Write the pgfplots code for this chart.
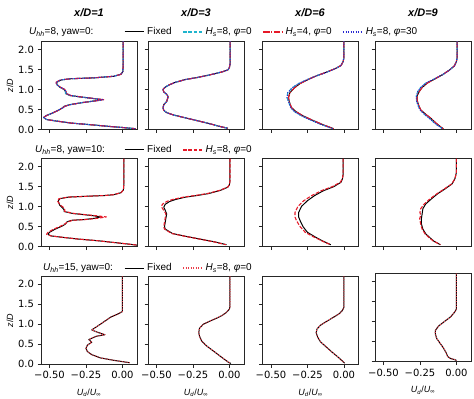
\documentclass[border=0pt]{standalone}
\usepackage{pgfplots}
\pgfplotsset{compat=1.18}
\usepackage{pgfplotstable}
\usepackage{fontspec}
\setmainfont{Liberation Sans}
\newfontfamily\dejavu{DejaVu Sans}

\definecolor{cyanL}{RGB}{30,180,205}
\definecolor{redL}{RGB}{230,25,40}
\definecolor{blueL}{RGB}{40,40,210}

% ---------------- data: row a (U=8, yaw=0), row b (U=8, yaw=10), row c (U=15, yaw=0)
\pgfplotstableread{
x y
0.005 2.20
0.005 1.60
0.003 1.45
-0.010 1.38
-0.060 1.33
-0.200 1.29
-0.350 1.27
-0.420 1.24
-0.450 1.18
-0.450 1.13
-0.430 1.06
-0.400 1.00
-0.390 0.95
-0.390 0.90
-0.360 0.85
-0.280 0.81
-0.190 0.77
-0.140 0.745
-0.180 0.72
-0.280 0.67
-0.360 0.62
-0.400 0.58
-0.410 0.54
-0.440 0.48
-0.480 0.41
-0.520 0.35
-0.540 0.30
-0.520 0.25
-0.450 0.21
-0.350 0.16
-0.220 0.12
-0.100 0.08
0.000 0.05
0.090 0.02
}\tblaA
\pgfplotstableread{
x y
0.005 2.20
0.005 1.60
0.003 1.45
-0.010 1.38
-0.060 1.33
-0.200 1.29
-0.350 1.27
-0.425 1.24
-0.455 1.18
-0.450 1.12
-0.425 1.06
-0.395 1.00
-0.385 0.95
-0.385 0.90
-0.355 0.85
-0.275 0.81
-0.185 0.77
-0.128 0.745
-0.175 0.72
-0.280 0.67
-0.360 0.62
-0.395 0.58
-0.405 0.55
-0.440 0.48
-0.480 0.41
-0.520 0.35
-0.540 0.30
-0.520 0.25
-0.450 0.21
-0.350 0.16
-0.220 0.12
-0.100 0.08
0.000 0.05
0.090 0.02
}\tblaAv
\pgfplotstableread{
x y
0.005 2.20
0.005 1.65
0.000 1.55
-0.010 1.49
-0.050 1.44
-0.140 1.36
-0.220 1.30
-0.300 1.25
-0.370 1.18
-0.410 1.12
-0.440 1.06
-0.455 1.00
-0.450 0.94
-0.430 0.88
-0.420 0.82
-0.425 0.76
-0.430 0.70
-0.450 0.62
-0.455 0.54
-0.450 0.48
-0.430 0.42
-0.380 0.36
-0.300 0.29
-0.220 0.22
-0.140 0.15
-0.070 0.08
-0.010 0.03
}\tblaB
\pgfplotstableread{
x y
0.000 2.20
0.000 1.80
-0.005 1.70
-0.020 1.60
-0.060 1.52
-0.130 1.42
-0.190 1.34
-0.245 1.25
-0.300 1.15
-0.340 1.04
-0.370 0.92
-0.380 0.80
-0.375 0.70
-0.360 0.55
-0.330 0.45
-0.280 0.34
-0.220 0.24
-0.150 0.13
-0.100 0.06
-0.070 0.02
}\tblaC
\pgfplotstableread{
x y
0.000 2.20
0.000 1.80
-0.005 1.70
-0.020 1.60
-0.060 1.52
-0.125 1.42
-0.190 1.34
-0.250 1.25
-0.310 1.15
-0.355 1.04
-0.385 0.92
-0.390 0.80
-0.380 0.70
-0.365 0.55
-0.340 0.45
-0.290 0.34
-0.230 0.24
-0.160 0.13
-0.105 0.06
-0.075 0.02
}\tblaCv
\pgfplotstableread{
x y
0.005 2.20
0.005 1.80
0.000 1.70
-0.014 1.59
-0.050 1.48
-0.095 1.37
-0.150 1.26
-0.200 1.16
-0.235 1.05
-0.255 0.95
-0.270 0.84
-0.270 0.74
-0.260 0.62
-0.245 0.49
-0.210 0.38
-0.175 0.28
-0.140 0.16
-0.106 0.06
-0.090 0.02
}\tblaD
\pgfplotstableread{
x y
0.005 2.20
0.005 1.80
0.000 1.70
-0.014 1.59
-0.050 1.48
-0.095 1.37
-0.155 1.26
-0.210 1.16
-0.245 1.05
-0.265 0.95
-0.275 0.84
-0.275 0.74
-0.265 0.62
-0.250 0.49
-0.220 0.38
-0.185 0.28
-0.150 0.16
-0.112 0.06
-0.095 0.02
}\tblaDv
% row b
\pgfplotstableread{
x y
0.010 2.20
0.010 1.57
0.007 1.42
-0.010 1.35
-0.060 1.30
-0.120 1.28
-0.250 1.26
-0.370 1.24
-0.430 1.20
-0.440 1.14
-0.430 1.04
-0.410 0.97
-0.400 0.92
-0.400 0.88
-0.340 0.83
-0.260 0.80
-0.190 0.77
-0.150 0.745
-0.190 0.71
-0.260 0.68
-0.350 0.66
-0.380 0.62
-0.390 0.57
-0.410 0.52
-0.460 0.44
-0.500 0.36
-0.510 0.31
-0.490 0.27
-0.400 0.23
-0.300 0.19
-0.170 0.15
-0.070 0.11
0.030 0.07
0.100 0.04
}\tblbA
\pgfplotstableread{
x y
0.010 2.20
0.010 1.57
0.007 1.42
-0.010 1.35
-0.060 1.30
-0.120 1.28
-0.250 1.26
-0.370 1.24
-0.435 1.20
-0.445 1.14
-0.425 1.04
-0.400 0.97
-0.395 0.92
-0.395 0.88
-0.330 0.83
-0.250 0.80
-0.170 0.77
-0.110 0.745
-0.170 0.71
-0.250 0.68
-0.340 0.66
-0.375 0.62
-0.390 0.58
-0.420 0.52
-0.470 0.44
-0.510 0.36
-0.520 0.31
-0.490 0.27
-0.400 0.23
-0.300 0.19
-0.170 0.15
-0.070 0.11
0.030 0.07
0.100 0.04
}\tblbAv
\pgfplotstableread{
x y
0.004 2.20
0.004 1.65
0.000 1.55
-0.010 1.49
-0.060 1.41
-0.140 1.33
-0.220 1.28
-0.300 1.24
-0.370 1.18
-0.410 1.13
-0.440 1.06
-0.450 0.99
-0.440 0.91
-0.430 0.82
-0.435 0.72
-0.440 0.61
-0.445 0.50
-0.440 0.44
-0.390 0.33
-0.300 0.26
-0.200 0.19
-0.100 0.12
-0.020 0.05
}\tblbB
\pgfplotstableread{
x y
0.004 2.20
0.004 1.65
0.000 1.55
-0.012 1.49
-0.065 1.41
-0.150 1.33
-0.235 1.28
-0.315 1.24
-0.390 1.18
-0.430 1.13
-0.460 1.06
-0.465 0.99
-0.450 0.91
-0.435 0.82
-0.440 0.72
-0.445 0.61
-0.450 0.50
-0.445 0.44
-0.395 0.33
-0.305 0.26
-0.205 0.19
-0.105 0.12
-0.025 0.05
}\tblbBv
\pgfplotstableread{
x y
-0.005 2.20
-0.005 1.82
-0.010 1.70
-0.020 1.61
-0.070 1.50
-0.140 1.40
-0.200 1.28
-0.250 1.15
-0.290 1.01
-0.310 0.86
-0.310 0.74
-0.300 0.65
-0.280 0.50
-0.250 0.36
-0.200 0.25
-0.160 0.17
-0.120 0.10
-0.090 0.05
}\tblbC
\pgfplotstableread{
x y
-0.005 2.20
-0.005 1.82
-0.010 1.70
-0.025 1.61
-0.080 1.50
-0.155 1.40
-0.220 1.28
-0.275 1.15
-0.315 1.01
-0.335 0.86
-0.335 0.74
-0.325 0.65
-0.300 0.50
-0.265 0.36
-0.210 0.25
-0.165 0.17
-0.125 0.10
-0.090 0.05
}\tblbCv
\pgfplotstableread{
x y
0.000 2.20
0.000 1.86
-0.010 1.70
-0.030 1.57
-0.080 1.44
-0.130 1.32
-0.170 1.20
-0.210 1.07
-0.230 0.95
-0.235 0.82
-0.240 0.70
-0.240 0.57
-0.230 0.44
-0.210 0.32
-0.180 0.22
-0.155 0.14
-0.130 0.09
-0.110 0.05
}\tblbD
\pgfplotstableread{
x y
0.000 2.20
0.000 1.86
-0.010 1.70
-0.032 1.57
-0.085 1.44
-0.135 1.32
-0.180 1.20
-0.220 1.07
-0.245 0.95
-0.250 0.86
-0.245 0.78
-0.252 0.70
-0.245 0.57
-0.235 0.44
-0.215 0.32
-0.185 0.22
-0.158 0.14
-0.130 0.09
-0.110 0.05
}\tblbDv
% row c
\pgfplotstableread{
x y
0.000 2.20
0.000 1.32
-0.030 1.26
-0.080 1.18
-0.120 1.08
-0.160 0.98
-0.210 0.86
-0.170 0.80
-0.120 0.74
-0.180 0.70
-0.230 0.62
-0.210 0.55
-0.240 0.48
-0.250 0.40
-0.240 0.32
-0.210 0.24
-0.150 0.16
-0.060 0.10
0.050 0.04
}\tblcA
\pgfplotstableread{
x y
0.004 2.20
0.004 1.45
0.000 1.38
-0.020 1.30
-0.050 1.22
-0.090 1.15
-0.140 1.07
-0.180 1.00
-0.205 0.90
-0.210 0.80
-0.205 0.70
-0.190 0.58
-0.160 0.47
-0.120 0.36
-0.080 0.25
-0.040 0.14
-0.010 0.06
0.010 0.02
}\tblcB
\pgfplotstableread{
x y
0.000 2.20
0.000 1.42
-0.010 1.35
-0.030 1.27
-0.070 1.18
-0.120 1.07
-0.160 0.98
-0.185 0.88
-0.190 0.79
-0.180 0.68
-0.160 0.56
-0.120 0.43
-0.080 0.30
-0.040 0.18
-0.010 0.08
0.005 0.03
}\tblcC
\pgfplotstableread{
x y
0.000 2.20
0.000 1.32
-0.010 1.25
-0.040 1.12
-0.080 1.01
-0.120 0.90
-0.145 0.78
-0.145 0.70
-0.135 0.58
-0.110 0.45
-0.090 0.35
-0.070 0.22
-0.060 0.13
-0.040 0.08
-0.010 0.05
0.000 0.03
}\tblcD

\pgfplotsset{
  panel/.style={scale only axis, width=96bp, height=88bp,
    xmin=-0.558, xmax=0.1, ymin=0, ymax=2.2,
    xtick={-0.5,-0.25,0}, ytick={0,0.5,1,1.5,2},
    xticklabels={}, yticklabels={},
    tick align=outside, xtick pos=bottom, ytick pos=left,
    major tick length=3.5bp,
    axis line style={line width=0.8pt, black!85},
    every tick/.style={line width=0.8pt, black!85},
    anchor=south west,
    ticklabel style={font=\dejavu\fontsize{10}{12}\selectfont},
    label style={font=\fontsize{9}{11}\selectfont},
  },
  ylab/.style={yticklabels={0.0,0.5,1.0,1.5,2.0},
    ylabel={\textit{z}/\textit{D}},
    ylabel style={at={(axis description cs:-0.323,0.5)}, anchor=center, rotate=0}},
  xlab/.style={xticklabels={−0.50,−0.25,0.00},
    xlabel={\textit{U}\textsubscript{\textit{d}}/\textit{U}\textsubscript{∞}},
    xlabel style={at={(axis description cs:0.5,-0.326)}, anchor=center}},
  leg/.style={legend style={draw=none, fill=none, inner sep=0pt, anchor=west,
      font=\fontsize{10}{12}\selectfont, nodes={inner sep=1bp},
      /tikz/every even column/.append style={column sep=10bp},
      /tikz/every odd column/.append style={column sep=2bp},
      legend columns=-1}},
}
\tikzset{
  fixed/.style={draw=black, line width=1pt, line join=round},
  cyd/.style={draw=cyanL, line width=1.1pt, dash pattern=on 3.7pt off 1.6pt, line join=round},
  rdd/.style={draw=redL, line width=1.1pt, dash pattern=on 6.4pt off 1.6pt on 1pt off 1.6pt, line join=round},
  bld/.style={draw=blueL, line width=1.1pt, dash pattern=on 1pt off 1.5pt, line join=round},
  rdash/.style={draw=redL, line width=1.1pt, dash pattern=on 3.7pt off 1.6pt, line join=round},
  rdot/.style={draw=redL!85!white, line width=1.1pt, dash pattern=on 1pt off 1.5pt, line join=round},
}

\begin{document}
\begin{tikzpicture}[x=1bp,y=1bp]
\path[use as bounding box] (0,0) rectangle (474,398);

% column titles
\foreach \cx/\t in {89/1,196/3,310/6,423/9}
  \node[font=\fontsize{11}{13}\selectfont\bfseries\itshape] at (\cx,385) {x/D=\t};

% row labels
\node[anchor=west, font=\fontsize{10}{12}\selectfont, inner sep=0pt] at (29,366)
  {\textit{U}\textsubscript{\textit{hh}}=8, yaw=0:};
\node[anchor=west, font=\fontsize{10}{12}\selectfont, inner sep=0pt] at (35,248)
  {\textit{U}\textsubscript{\textit{hh}}=8, yaw=10:};
\node[anchor=west, font=\fontsize{10}{12}\selectfont, inner sep=0pt] at (43,130)
  {\textit{U}\textsubscript{\textit{hh}}=15, yaw=0:};

% ---------------- row a
\begin{axis}[panel, ylab, at={(41bp,268.5bp)}, leg,
  legend style={at={(axis description cs:0.865,1.108)}},
  legend image code/.code={\draw[#1] (0bp,0bp) -- (19bp,0bp);}]
\addplot[fixed] table {\tblaA};
\addplot[cyd] table {\tblaA};
\addplot[rdd] table {\tblaAv};
\addplot[bld] table {\tblaAv};
\legend{Fixed, \textit{H}\textsubscript{\textit{s}}=8{,} \textit{φ}=0, \textit{H}\textsubscript{\textit{s}}=4{,} \textit{φ}=0, \textit{H}\textsubscript{\textit{s}}=8{,} \textit{φ}=30}
\end{axis}
\begin{axis}[panel, at={(148bp,268.5bp)}]
\addplot[fixed] table {\tblaB};
\addplot[cyd] table {\tblaB};
\addplot[rdd] table {\tblaB};
\addplot[bld] table {\tblaB};
\end{axis}
\begin{axis}[panel, at={(262.5bp,268.5bp)}]
\addplot[fixed] table {\tblaC};
\addplot[cyd] table {\tblaCv};
\addplot[rdd] table {\tblaC};
\addplot[bld] table {\tblaCv};
\end{axis}
\begin{axis}[panel, at={(375bp,268.5bp)}]
\addplot[fixed] table {\tblaD};
\addplot[cyd] table {\tblaDv};
\addplot[rdd] table {\tblaD};
\addplot[bld] table {\tblaDv};
\end{axis}

% ---------------- row b
\begin{axis}[panel, ylab, at={(41bp,151.3bp)}, leg,
  legend style={at={(axis description cs:0.865,1.099)}},
  legend image code/.code={\draw[#1] (0bp,0bp) -- (19bp,0bp);}]
\addplot[fixed] table {\tblbA};
\addplot[rdash] table {\tblbAv};
\legend{Fixed, \textit{H}\textsubscript{\textit{s}}=8{,} \textit{φ}=0}
\end{axis}
\begin{axis}[panel, at={(148bp,151.3bp)}]
\addplot[fixed] table {\tblbB};
\addplot[rdash] table {\tblbBv};
\end{axis}
\begin{axis}[panel, at={(262.5bp,151.3bp)}]
\addplot[fixed] table {\tblbC};
\addplot[rdash] table {\tblbCv};
\end{axis}
\begin{axis}[panel, at={(375bp,151.3bp)}]
\addplot[fixed] table {\tblbD};
\addplot[rdash] table {\tblbDv};
\end{axis}

% ---------------- row c
\begin{axis}[panel, ylab, xlab, at={(41bp,33.7bp)}, leg,
  legend style={at={(axis description cs:0.865,1.094)}},
  legend image code/.code={\draw[#1] (0bp,0bp) -- (19bp,0bp);}]
\addplot[fixed] table {\tblcA};
\addplot[rdot] table {\tblcA};
\legend{Fixed, \textit{H}\textsubscript{\textit{s}}=8{,} \textit{φ}=0}
\end{axis}
\begin{axis}[panel, xlab, at={(148bp,33.7bp)}]
\addplot[fixed] table {\tblcB};
\addplot[rdot] table {\tblcB};
\end{axis}
\begin{axis}[panel, xlab, at={(262.5bp,33.7bp)}]
\addplot[fixed] table {\tblcC};
\addplot[rdot] table {\tblcC};
\end{axis}
\begin{axis}[panel, xlab, at={(375bp,36.3bp)}]
\addplot[fixed] table {\tblcD};
\addplot[rdot] table {\tblcD};
\end{axis}
\end{tikzpicture}
\end{document}
